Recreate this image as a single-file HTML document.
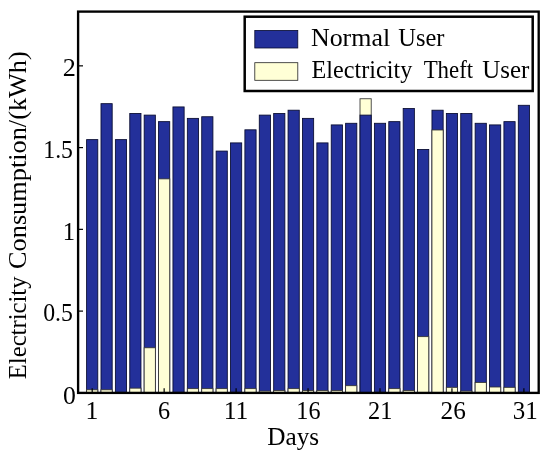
<!DOCTYPE html>
<html><head><meta charset="utf-8"><title>Electricity Consumption</title>
<style>html,body{margin:0;padding:0;background:#fff}svg{display:block}</style></head>
<body>
<svg width="550" height="458" viewBox="0 0 550 458">
<rect width="550" height="458" fill="#fff"/>
<g stroke-width="0.85">
<rect x="86.60" y="139.62" width="11.20" height="253.23" fill="#23309a" stroke="#070a2e"/>
<rect x="86.60" y="389.78" width="11.20" height="3.07" fill="#ffffd6" stroke="#333"/>
<rect x="100.99" y="103.66" width="11.20" height="289.19" fill="#23309a" stroke="#070a2e"/>
<rect x="100.99" y="389.78" width="11.20" height="3.07" fill="#ffffd6" stroke="#333"/>
<rect x="115.38" y="139.62" width="11.20" height="253.23" fill="#23309a" stroke="#070a2e"/>
<rect x="115.38" y="392.23" width="11.20" height="0.62" fill="#ffffd6" stroke="#333"/>
<rect x="129.77" y="113.47" width="11.20" height="279.38" fill="#23309a" stroke="#070a2e"/>
<rect x="129.77" y="388.15" width="11.20" height="4.70" fill="#ffffd6" stroke="#333"/>
<rect x="144.16" y="115.10" width="11.20" height="277.75" fill="#23309a" stroke="#070a2e"/>
<rect x="144.16" y="347.76" width="11.20" height="45.09" fill="#ffffd6" stroke="#333"/>
<rect x="158.55" y="121.64" width="11.20" height="271.21" fill="#23309a" stroke="#070a2e"/>
<rect x="158.55" y="178.87" width="11.20" height="213.99" fill="#ffffd6" stroke="#333"/>
<rect x="172.94" y="106.93" width="11.20" height="285.93" fill="#23309a" stroke="#070a2e"/>
<rect x="172.94" y="392.23" width="11.20" height="0.62" fill="#ffffd6" stroke="#333"/>
<rect x="187.33" y="118.37" width="11.20" height="274.48" fill="#23309a" stroke="#070a2e"/>
<rect x="187.33" y="388.64" width="11.20" height="4.21" fill="#ffffd6" stroke="#333"/>
<rect x="201.72" y="116.74" width="11.20" height="276.12" fill="#23309a" stroke="#070a2e"/>
<rect x="201.72" y="388.64" width="11.20" height="4.21" fill="#ffffd6" stroke="#333"/>
<rect x="216.11" y="151.07" width="11.20" height="241.78" fill="#23309a" stroke="#070a2e"/>
<rect x="216.11" y="388.64" width="11.20" height="4.21" fill="#ffffd6" stroke="#333"/>
<rect x="230.50" y="142.90" width="11.20" height="249.96" fill="#23309a" stroke="#070a2e"/>
<rect x="230.50" y="392.23" width="11.20" height="0.62" fill="#ffffd6" stroke="#333"/>
<rect x="244.89" y="129.81" width="11.20" height="263.04" fill="#23309a" stroke="#070a2e"/>
<rect x="244.89" y="388.64" width="11.20" height="4.21" fill="#ffffd6" stroke="#333"/>
<rect x="259.28" y="115.10" width="11.20" height="277.75" fill="#23309a" stroke="#070a2e"/>
<rect x="259.28" y="391.09" width="11.20" height="1.76" fill="#ffffd6" stroke="#333"/>
<rect x="273.67" y="113.47" width="11.20" height="279.38" fill="#23309a" stroke="#070a2e"/>
<rect x="273.67" y="390.60" width="11.20" height="2.25" fill="#ffffd6" stroke="#333"/>
<rect x="288.06" y="110.20" width="11.20" height="282.66" fill="#23309a" stroke="#070a2e"/>
<rect x="288.06" y="388.64" width="11.20" height="4.21" fill="#ffffd6" stroke="#333"/>
<rect x="302.45" y="118.37" width="11.20" height="274.48" fill="#23309a" stroke="#070a2e"/>
<rect x="302.45" y="390.60" width="11.20" height="2.25" fill="#ffffd6" stroke="#333"/>
<rect x="316.84" y="142.90" width="11.20" height="249.96" fill="#23309a" stroke="#070a2e"/>
<rect x="316.84" y="390.60" width="11.20" height="2.25" fill="#ffffd6" stroke="#333"/>
<rect x="331.23" y="124.91" width="11.20" height="267.94" fill="#23309a" stroke="#070a2e"/>
<rect x="331.23" y="390.60" width="11.20" height="2.25" fill="#ffffd6" stroke="#333"/>
<rect x="345.62" y="123.28" width="11.20" height="269.57" fill="#23309a" stroke="#070a2e"/>
<rect x="345.62" y="385.69" width="11.20" height="7.16" fill="#ffffd6" stroke="#333"/>
<rect x="360.01" y="98.75" width="11.20" height="294.10" fill="#ffffd6" stroke="#333"/>
<rect x="360.01" y="115.10" width="11.20" height="277.75" fill="#23309a" stroke="#070a2e"/>
<rect x="374.40" y="123.28" width="11.20" height="269.57" fill="#23309a" stroke="#070a2e"/>
<rect x="374.40" y="392.23" width="11.20" height="0.62" fill="#ffffd6" stroke="#333"/>
<rect x="388.79" y="121.64" width="11.20" height="271.21" fill="#23309a" stroke="#070a2e"/>
<rect x="388.79" y="388.64" width="11.20" height="4.21" fill="#ffffd6" stroke="#333"/>
<rect x="403.18" y="108.56" width="11.20" height="284.29" fill="#23309a" stroke="#070a2e"/>
<rect x="403.18" y="390.60" width="11.20" height="2.25" fill="#ffffd6" stroke="#333"/>
<rect x="417.57" y="149.44" width="11.20" height="243.42" fill="#23309a" stroke="#070a2e"/>
<rect x="417.57" y="336.64" width="11.20" height="56.21" fill="#ffffd6" stroke="#333"/>
<rect x="431.96" y="110.20" width="11.20" height="282.66" fill="#23309a" stroke="#070a2e"/>
<rect x="431.96" y="129.98" width="11.20" height="262.87" fill="#ffffd6" stroke="#333"/>
<rect x="446.35" y="113.47" width="11.20" height="279.38" fill="#23309a" stroke="#070a2e"/>
<rect x="446.35" y="387.33" width="11.20" height="5.52" fill="#ffffd6" stroke="#333"/>
<rect x="460.74" y="113.47" width="11.20" height="279.38" fill="#23309a" stroke="#070a2e"/>
<rect x="460.74" y="391.09" width="11.20" height="1.76" fill="#ffffd6" stroke="#333"/>
<rect x="475.13" y="123.28" width="11.20" height="269.57" fill="#23309a" stroke="#070a2e"/>
<rect x="475.13" y="382.42" width="11.20" height="10.43" fill="#ffffd6" stroke="#333"/>
<rect x="489.52" y="124.91" width="11.20" height="267.94" fill="#23309a" stroke="#070a2e"/>
<rect x="489.52" y="387.00" width="11.20" height="5.85" fill="#ffffd6" stroke="#333"/>
<rect x="503.91" y="121.64" width="11.20" height="271.21" fill="#23309a" stroke="#070a2e"/>
<rect x="503.91" y="387.33" width="11.20" height="5.52" fill="#ffffd6" stroke="#333"/>
<rect x="518.30" y="105.29" width="11.20" height="287.56" fill="#23309a" stroke="#070a2e"/>
<rect x="518.30" y="392.23" width="11.20" height="0.62" fill="#ffffd6" stroke="#333"/>
</g>
<g stroke="#000" stroke-width="1.2">
<line x1="92.20" y1="392.85" x2="92.20" y2="388.35"/>
<line x1="164.15" y1="392.85" x2="164.15" y2="388.35"/>
<line x1="236.10" y1="392.85" x2="236.10" y2="388.35"/>
<line x1="308.05" y1="392.85" x2="308.05" y2="388.35"/>
<line x1="380.00" y1="392.85" x2="380.00" y2="388.35"/>
<line x1="451.95" y1="392.85" x2="451.95" y2="388.35"/>
<line x1="523.90" y1="392.85" x2="523.90" y2="388.35"/>
<line x1="78.2" y1="311.10" x2="83" y2="311.10"/>
<line x1="78.2" y1="229.35" x2="83" y2="229.35"/>
<line x1="78.2" y1="147.60" x2="83" y2="147.60"/>
<line x1="78.2" y1="65.85" x2="83" y2="65.85"/>
</g>
<rect x="78.1" y="11.6" width="460.6" height="381.3" fill="none" stroke="#000" stroke-width="2.35"/>
<rect x="244.7" y="16.7" width="288" height="74.3" fill="#fff" stroke="#000" stroke-width="2.5"/>
<rect x="254.8" y="30.4" width="43" height="17.6" fill="#23309a" stroke="#070a2e" stroke-width="0.8"/>
<rect x="254.8" y="62.7" width="43" height="17.6" fill="#ffffd6" stroke="#222" stroke-width="0.8"/>
<g font-family="'Liberation Serif', serif" fill="#000">
<text y="45.8" font-size="24.8"><tspan x="310.92" textLength="79.21" lengthAdjust="spacingAndGlyphs">Normal</tspan> <tspan x="398.31" textLength="46.19" lengthAdjust="spacingAndGlyphs">User</tspan></text>
<text y="78.2" font-size="24.8"><tspan x="311.57" textLength="100.68" lengthAdjust="spacingAndGlyphs">Electricity</tspan> <tspan x="423.64" textLength="49.55" lengthAdjust="spacingAndGlyphs">Theft</tspan> <tspan x="482.30" textLength="47.11" lengthAdjust="spacingAndGlyphs">User</tspan></text>
<text x="62.80" y="75.5" font-size="24.7" textLength="13.12" lengthAdjust="spacingAndGlyphs">2</text>
<text x="43.26" y="157.6" font-size="24.7" textLength="29.69" lengthAdjust="spacingAndGlyphs">1.5</text>
<text x="62.79" y="239.6" font-size="24.7" textLength="12.27" lengthAdjust="spacingAndGlyphs">1</text>
<text x="43.24" y="321.4" font-size="24.7" textLength="29.71" lengthAdjust="spacingAndGlyphs">0.5</text>
<text x="63.06" y="403.7" font-size="24.7" textLength="12.85" lengthAdjust="spacingAndGlyphs">0</text>
<text x="85.49" y="418.6" font-size="24.7" textLength="12.84" lengthAdjust="spacingAndGlyphs">1</text>
<text x="157.90" y="418.6" font-size="24.7" textLength="12.11" lengthAdjust="spacingAndGlyphs">6</text>
<text x="223.70" y="418.6" font-size="24.7" textLength="24.58" lengthAdjust="spacingAndGlyphs">11</text>
<text x="296.32" y="418.6" font-size="24.7" textLength="24.15" lengthAdjust="spacingAndGlyphs">16</text>
<text x="368.09" y="418.6" font-size="24.7" textLength="24.32" lengthAdjust="spacingAndGlyphs">21</text>
<text x="440.55" y="418.6" font-size="24.7" textLength="25.25" lengthAdjust="spacingAndGlyphs">26</text>
<text x="512.73" y="418.6" font-size="24.7" textLength="25.02" lengthAdjust="spacingAndGlyphs">31</text>
<text x="267.34" y="445.3" font-size="24.8" textLength="51.85" lengthAdjust="spacingAndGlyphs">Days</text>
<text transform="translate(26.2,378.5) rotate(-90)" font-size="24.8"><tspan x="-0.75" textLength="102.80" lengthAdjust="spacingAndGlyphs">Electricity</tspan> <tspan x="109.54" textLength="217.77" lengthAdjust="spacingAndGlyphs">Consumption/(kWh)</tspan></text>
</g>
</svg>
</body></html>
